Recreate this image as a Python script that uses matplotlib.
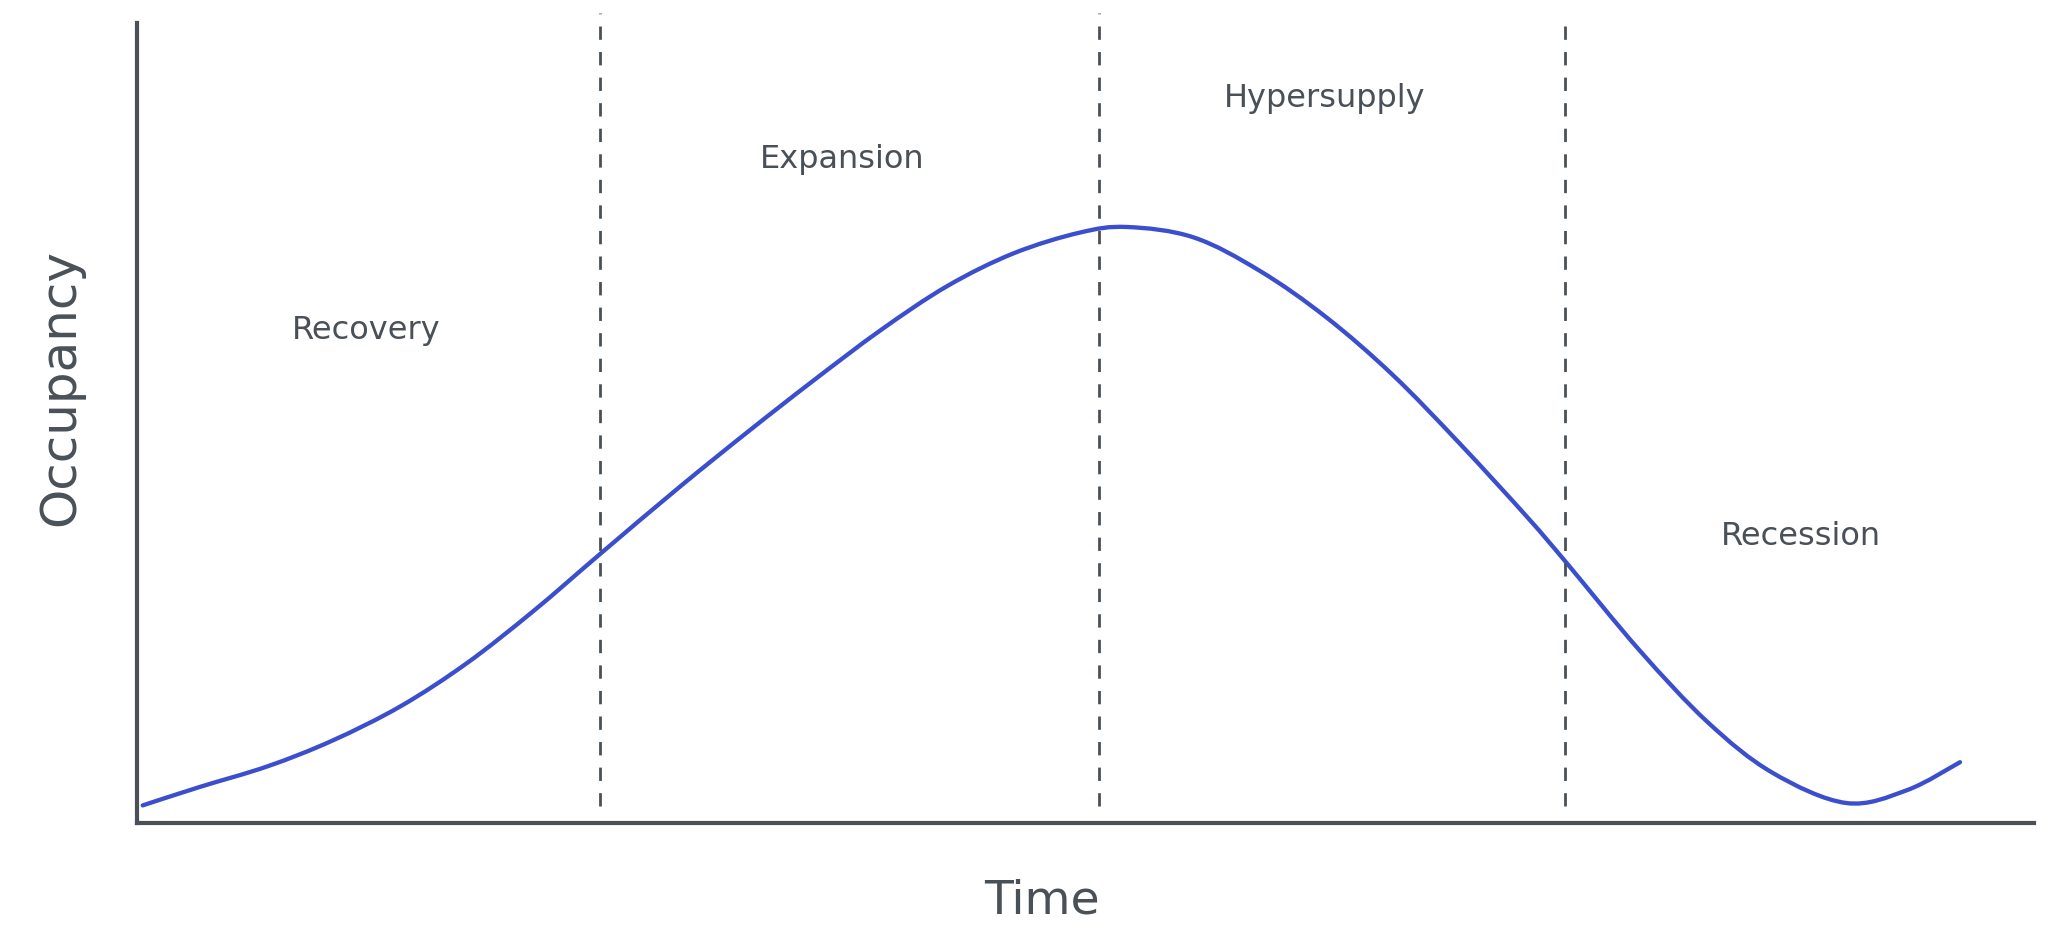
import matplotlib
matplotlib.use("Agg")
import matplotlib.pyplot as plt
import numpy as np
from matplotlib.path import Path
from matplotlib.patches import PathPatch

# Occupancy cycle (time and occupancy on 0-100 scales)
time_pts = [0.3, 3.3, 6.9, 10.3, 13.9, 17.4, 20.9, 24.4, 28.6, 32.2, 35.6, 39.2,
            42.7, 46.2, 49.7, 52.2, 55.7, 59.2, 62.7, 66.2, 69.7, 73.3, 75.4,
            79.2, 82.8, 86.2, 90.1, 93.3, 96.1]
occupancy = [2.2, 4.5, 7.1, 10.3, 14.6, 20.0, 26.5, 33.6, 42.0, 48.9, 55.2, 61.6,
             67.1, 71.2, 73.8, 74.5, 73.2, 69.0, 63.2, 56.0, 47.5, 38.2, 32.4,
             21.6, 12.6, 6.3, 2.5, 4.1, 7.6]

phases = ["Recovery", "Expansion", "Hypersupply", "Recession"]
boundaries = [24.4, 50.7, 75.3]

ink = "#495057"
blue = "#3b4fce"

fig = plt.figure(figsize=(20.48, 9.5), dpi=100)
ax = fig.add_axes([137 / 2048, 127 / 950, 1897 / 2048, 800 / 950])
ax.set_xlim(0, 100)
ax.set_ylim(0, 100)

for s in ["top", "right"]:
    ax.spines[s].set_visible(False)
for s in ["left", "bottom"]:
    ax.spines[s].set_color(ink)
    ax.spines[s].set_linewidth(3)
ax.set_xticks([])
ax.set_yticks([])

# phase boundaries
tops = [101.2, 101.2, 99.7]
for b, top in zip(boundaries, tops):
    ax.vlines(b, 2.1, top, colors=ink, linewidth=2, linestyles=(0, (4.8, 4.4)),
              clip_on=False)

# smooth curve through the read points (Catmull-Rom as cubic Bezier segments)
pts = np.column_stack([time_pts, occupancy])
ext = np.vstack([pts[0], pts, pts[-1]])
verts = [pts[0]]
codes = [Path.MOVETO]
for i in range(1, len(ext) - 2):
    p0, p1, p2, p3 = ext[i - 1], ext[i], ext[i + 1], ext[i + 2]
    verts += [p1 + (p2 - p0) / 6, p2 - (p3 - p1) / 6, p2]
    codes += [Path.CURVE4] * 3
ax.add_patch(PathPatch(Path(verts, codes), facecolor="none", edgecolor=blue,
                       linewidth=3.1, capstyle="round", joinstyle="round"))

# phase labels
label_pos = [(12.1, 61.6), (37.2, 82.9), (62.6, 90.6), (87.7, 35.8)]
for name, (x, y) in zip(phases, label_pos):
    ax.text(x, y, name, ha="center", va="center", fontsize=23, color=ink,
            family="DejaVu Sans")

fig.text(1042 / 2048, 1 - 901 / 950, "Time", ha="center", va="center",
         fontsize=34, color=ink)
fig.text(60 / 2048, 1 - 387 / 950, "Occupancy", ha="center", va="center",
         rotation=90, fontsize=36, color=ink)

fig.savefig("out.png", dpi=100, facecolor="white")
